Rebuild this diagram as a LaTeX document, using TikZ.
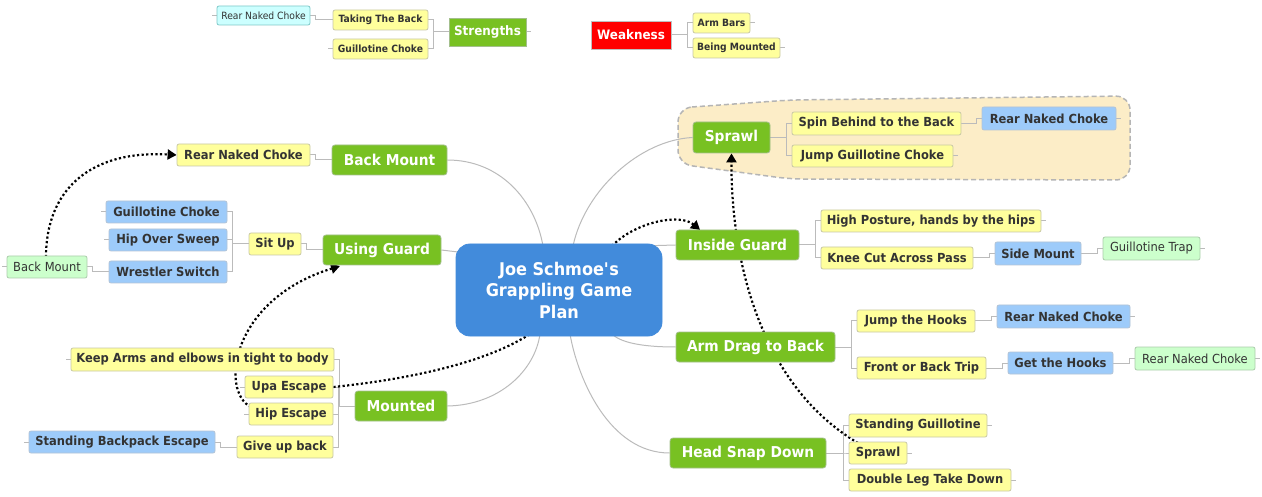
\documentclass[tikz,border=0pt]{standalone}
\usepackage{fontspec}
\setmainfont{DejaVu Sans}[FakeStretch=0.92]
\usetikzlibrary{arrows.meta,backgrounds}
\definecolor{gmain}{HTML}{78C122}
\definecolor{gmainb}{HTML}{A3BF8C}
\definecolor{yfill}{HTML}{FFFF9C}
\definecolor{yborder}{HTML}{C9C9A6}
\definecolor{bfill}{HTML}{9DCBFA}
\definecolor{bborder}{HTML}{B3C3D6}
\definecolor{lgfill}{HTML}{CCFFCC}
\definecolor{lgborder}{HTML}{ACCCAC}
\definecolor{cyfill}{HTML}{CCFFFF}
\definecolor{cyborder}{HTML}{7FC9C9}
\definecolor{redfill}{HTML}{FF0000}
\definecolor{centerfill}{HTML}{428BDB}
\definecolor{txt}{HTML}{333333}
\definecolor{connc}{HTML}{BBBBBB}
\definecolor{bndfill}{HTML}{FCEDC7}
\definecolor{bnddraw}{HTML}{B5B5B5}
\tikzset{
  base/.style={rounded corners=2pt, line width=0.8pt, inner sep=0pt, align=center, text=txt, font=\bfseries\fontsize{12.5}{14}\selectfont},
  mainnode/.style={base, fill=gmain, draw=gmainb, text=white, font=\bfseries\fontsize{15}{18}\selectfont, rounded corners=3pt},
  yel/.style={base, fill=yfill, draw=yborder},
  blu/.style={base, fill=bfill, draw=bborder},
  lgr/.style={base, fill=lgfill, draw=lgborder, font=\fontsize{12.5}{14}\selectfont},
  small/.style={font=\bfseries\fontsize{10}{12}\selectfont},
  conn/.style={draw=connc, line width=1pt},
  dotarrow/.style={line width=2.2pt, dash pattern=on 2.2pt off 2.4pt, -{Triangle[length=9pt,width=10pt]}},
  dotline/.style={line width=2.2pt, dash pattern=on 2.2pt off 2.4pt},
}
\newcommand\mmL[2]{\draw[conn] (#1.west) -| ([xshift=5pt]#2.east) -- (#2.east);}
\newcommand\mmR[2]{\draw[conn] (#1.east) -| ([xshift=-5pt]#2.west) -- (#2.west);}
\newcommand\mmSL[1]{\draw[conn] (#1.west) -- ++(-5,0);}
\newcommand\mmSR[1]{\draw[conn] (#1.east) -- ++(5,0);}
\begin{document}
\begin{tikzpicture}[x=1pt,y=-1pt]
\useasboundingbox (0,0) rectangle (1262,497);
% ---------- coordinates for free ends ----------
\coordinate (cBM) at (543,246);
\coordinate (cUG) at (458,252);
\coordinate (cMN) at (540,334);
\coordinate (cSP) at (573,246);
\coordinate (cIG) at (640,246);
\coordinate (cAD) at (612,334);
\coordinate (cHS) at (570,334);
\coordinate (cUpaEnd) at (530,334);
\coordinate (cIGStart) at (612,246);
\coordinate (ugTip) at (340,266);
\coordinate (igTip) at (700,230);
\coordinate (spr2Start) at (858,443);
\coordinate (bm2Start) at (46,257);
\coordinate (hipStart) at (251,407);
% ---------- nodes ----------
\node[base, fill=centerfill, draw=centerfill, text=white, rounded corners=14pt, minimum width=206pt, minimum height=92pt, font=\bfseries\fontsize{17.5}{21.5}\selectfont] (ctr) at (559,290) {Joe Schmoe\textquotesingle s\\Grappling Game\\Plan};
% top
\node[base, fill=cyfill, draw=cyborder, font=\fontsize{10}{12}\selectfont, minimum width=93pt, minimum height=19pt] (rnc0) at (263.5,15.5) {Rear Naked Choke};
\node[yel, small, minimum width=95pt, minimum height=20pt] (ttb) at (380.5,20) {Taking The Back};
\node[yel, small, minimum width=95pt, minimum height=20pt] (gc0) at (380.5,49) {Guillotine Choke};
\node[mainnode, font=\bfseries\fontsize{13}{15}\selectfont, rounded corners=0pt, minimum width=77pt, minimum height=28pt] (str) at (487.5,32) {Strengths};
\node[mainnode, fill=redfill, draw=black!25, font=\bfseries\fontsize{13}{15}\selectfont, rounded corners=0pt, minimum width=80pt, minimum height=28pt] (weak) at (631,35) {Weakness};
\node[yel, small, minimum width=57pt, minimum height=20pt] (armbars) at (721.5,23) {Arm Bars};
\node[yel, small, minimum width=87pt, minimum height=20pt] (beingm) at (736.5,48) {Being Mounted};
% left
\node[mainnode, minimum width=115pt, minimum height=30pt] (bm) at (389.5,160) {Back Mount};
\node[yel, minimum width=133pt, minimum height=22pt] (rnc1) at (243.5,155) {Rear Naked Choke};
\node[mainnode, minimum width=118pt, minimum height=30pt] (ug) at (382,250) {Using Guard};
\node[yel, minimum width=52pt, minimum height=22pt] (situp) at (275,244) {Sit Up};
\node[blu, minimum width=121pt, minimum height=22pt] (gc1) at (166.5,212) {Guillotine Choke};
\node[blu, minimum width=118pt, minimum height=22pt] (hos) at (168,240) {Hip Over Sweep};
\node[blu, minimum width=118pt, minimum height=22pt] (ws) at (168,272) {Wrestler Switch};
\node[lgr, minimum width=80pt, minimum height=22pt] (bm2) at (47,267) {Back Mount};
\node[mainnode, minimum width=92pt, minimum height=30pt] (mnt) at (401,406) {Mounted};
\node[yel, minimum width=263pt, minimum height=23pt] (keep) at (202.5,359.5) {Keep Arms and elbows in tight to body};
\node[yel, minimum width=88pt, minimum height=22pt] (upa) at (289,387) {Upa Escape};
\node[yel, minimum width=84pt, minimum height=22pt] (hip) at (291,414) {Hip Escape};
\node[yel, minimum width=96pt, minimum height=22pt] (gub) at (285,447) {Give up back};
\node[blu, minimum width=186pt, minimum height=22pt] (sbe) at (122,442) {Standing Backpack Escape};
% right
\node[mainnode, minimum width=77pt, minimum height=31pt] (spr) at (731.5,137.5) {Sprawl};
\node[yel, minimum width=169pt, minimum height=23pt] (spin) at (876.5,123.5) {Spin Behind to the Back};
\node[blu, minimum width=134pt, minimum height=23pt] (rnc2) at (1049,118.5) {Rear Naked Choke};
\node[yel, minimum width=161pt, minimum height=22pt] (jgc) at (872.5,156) {Jump Guillotine Choke};
\node[mainnode, minimum width=123pt, minimum height=30pt] (ig) at (737.5,245) {Inside Guard};
\node[yel, minimum width=220pt, minimum height=22pt] (hp) at (931,221) {High Posture, hands by the hips};
\node[yel, minimum width=152pt, minimum height=22pt] (kc) at (897,258) {Knee Cut Across Pass};
\node[blu, minimum width=86pt, minimum height=23pt] (sm) at (1038,253.5) {Side Mount};
\node[lgr, minimum width=97pt, minimum height=23pt] (gt) at (1151.5,248.5) {Guillotine Trap};
\node[mainnode, minimum width=159pt, minimum height=30pt] (adb) at (755.5,347) {Arm Drag to Back};
\node[yel, minimum width=118pt, minimum height=22pt] (jth) at (916,321) {Jump the Hooks};
\node[blu, minimum width=133pt, minimum height=23pt] (rnc3) at (1063.5,316.5) {Rear Naked Choke};
\node[yel, minimum width=129pt, minimum height=22pt] (fbt) at (921.5,368) {Front or Back Trip};
\node[blu, minimum width=105pt, minimum height=22pt] (gth) at (1060.5,363) {Get the Hooks};
\node[lgr, minimum width=120pt, minimum height=23pt] (rnc4) at (1195,358.5) {Rear Naked Choke};
\node[mainnode, minimum width=156pt, minimum height=30pt] (hsd) at (748,453) {Head Snap Down};
\node[yel, minimum width=138pt, minimum height=23pt] (sg) at (918,425.5) {Standing Guillotine};
\node[yel, minimum width=58pt, minimum height=22pt] (spr2) at (878,453) {Sprawl};
\node[yel, minimum width=162pt, minimum height=22pt] (dltd) at (930,480) {Double Leg Take Down};
% ---------- background: boundary, connectors, dotted arrows ----------
\begin{scope}[on background layer]
\fill[white] (0,0) rectangle (1262,497);
\draw[fill=bndfill, draw=bnddraw, line width=1.5pt, dash pattern=on 5pt off 3pt, rounded corners=14pt]
  (678,108) -- (790,100) -- (1130,96) -- (1130,180) -- (790,179) -- (678,164) -- cycle;
% main branches
\draw[conn] (bm.east) .. controls (500,160) and (535,200) .. (cBM);
\draw[conn] (ug.east) -- (cUG);
\draw[conn] (mnt.east) .. controls (500,405) and (535,370) .. (cMN);
\draw[conn] (spr.west) .. controls (640,140) and (585,190) .. (cSP);
\draw[conn] (ig.west) -- (cIG);
\draw[conn] (adb.west) .. controls (640,347) and (620,342) .. (cAD);
\draw[conn] (hsd.west) .. controls (610,453) and (578,380) .. (cHS);
% strengths / weakness
\mmL{str}{ttb} \mmL{str}{gc0} \mmL{ttb}{rnc0}
\mmSL{rnc0} \mmSL{gc0} \mmSR{str}
\mmR{weak}{armbars} \mmR{weak}{beingm}
\mmSR{armbars} \mmSR{beingm}
% left side
\mmL{bm}{rnc1}
\mmL{ug}{situp}
\mmL{situp}{gc1} \mmL{situp}{hos} \mmL{situp}{ws}
\mmL{ws}{bm2}
\mmSL{gc1} \mmSL{hos} \mmSL{bm2}
\mmL{mnt}{keep} \mmL{mnt}{upa} \mmL{mnt}{hip} \mmL{mnt}{gub}
\mmL{gub}{sbe}
\mmSL{keep} \mmSL{upa} \mmSL{hip} \mmSL{sbe}
% right side
\mmR{spr}{spin} \mmR{spr}{jgc} \mmR{spin}{rnc2}
\mmSR{rnc2} \mmSR{jgc}
\mmR{ig}{hp} \mmR{ig}{kc} \mmR{kc}{sm} \mmR{sm}{gt}
\mmSR{hp} \mmSR{gt}
\mmR{adb}{jth} \mmR{adb}{fbt} \mmR{jth}{rnc3} \mmR{fbt}{gth} \mmR{gth}{rnc4}
\mmSR{rnc3} \mmSR{rnc4}
\mmR{hsd}{sg} \mmR{hsd}{spr2} \mmR{hsd}{dltd}
\mmSR{sg} \mmSR{spr2} \mmSR{dltd}
% dotted relationships
\draw[dotarrow] (bm2Start) .. controls (46,190) and (90,150) .. (rnc1.west);
\draw[dotarrow] (hipStart) .. controls (220,392) and (230,300) .. (ugTip);
\draw[dotline] (upa.east) .. controls (420,378) and (490,360) .. (cUpaEnd);
\draw[dotarrow] (cIGStart) .. controls (635,222) and (680,213) .. (igTip);
\draw[dotarrow] (spr2Start) .. controls (760,385) and (731,260) .. (spr.south);
\end{scope}
\end{tikzpicture}
\end{document}
